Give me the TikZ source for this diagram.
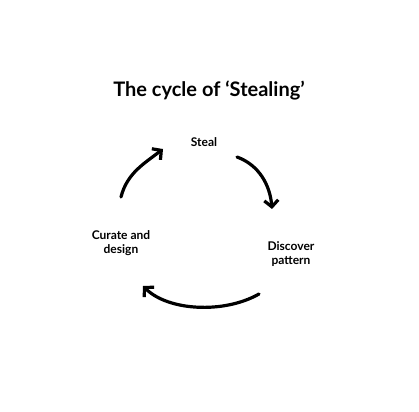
\documentclass[tikz,border=0pt]{standalone}
\usepackage{fontspec}
\setmainfont{Lato}
\usetikzlibrary{arrows.meta}
\begin{document}
\begin{tikzpicture}[x=1pt, y=-1pt,
                    title/.style={font=\bfseries\fontsize{20}{24}\selectfont},
                    stage/.style={font=\bfseries\fontsize{12}{14.5}\selectfont, align=center},
                    cyc/.style={line width=3.2pt, line cap=round, line join=round,
                                -{Straight Barb[length=6.5pt, width=14pt, line width=3.2pt]}}]
  \useasboundingbox (0,0) rectangle (419,411);
  \node[title] (head) at (209,91) {The cycle of ‘Stealing’};
  \node[stage] (steal) at (204,142) {Steal};
  \node[stage] (discover) at (291,254) {Discover\\pattern};
  \node[stage] (curate) at (121,243) {Curate and\\design};
  \draw[cyc] ([shift={(0,-46)}]curate.center) .. controls +(6,-24) and +(-18,14) .. ([shift={(-41,7)}]steal.center);
  \draw[cyc] ([shift={(33,15)}]steal.center) .. controls +(22,8) and +(-2,-24) .. ([shift={(-19,-45)}]discover.center);
  \draw[cyc] ([shift={(-32,40)}]discover.center) .. controls +(-35,20) and +(25,25) .. ([shift={(22,43)}]curate.center);
\end{tikzpicture}
\end{document}
